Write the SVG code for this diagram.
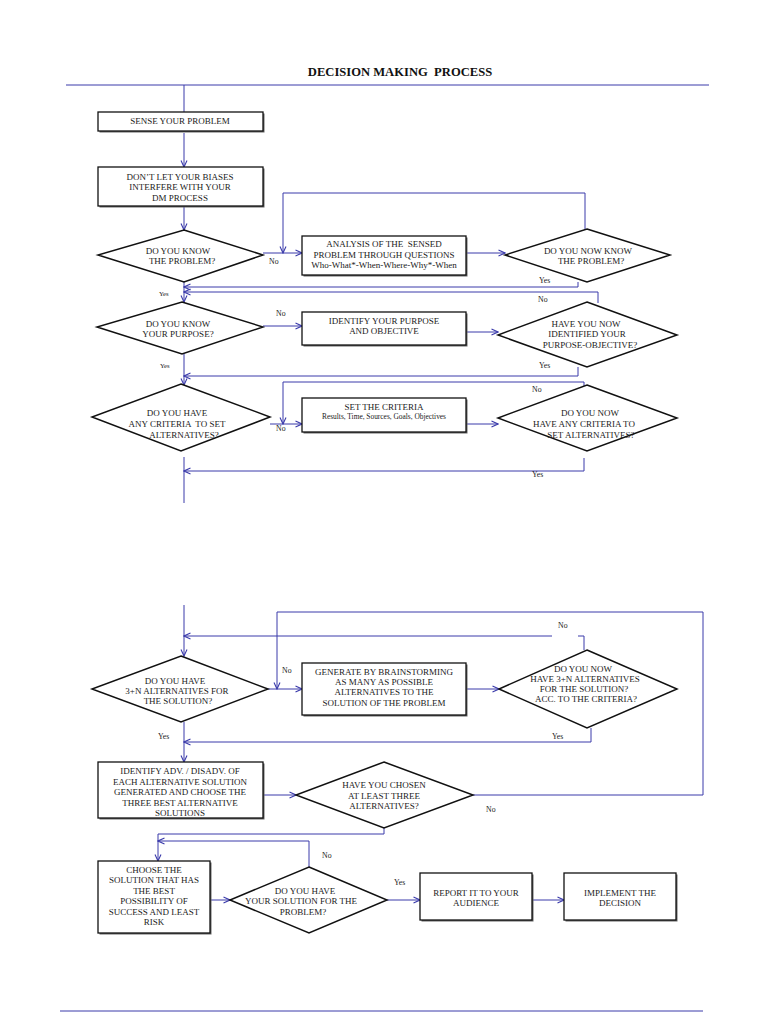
<svg xmlns="http://www.w3.org/2000/svg" width="768" height="1024" viewBox="0 0 768 1024">
<style>
.bx{fill:#fff;stroke:#111;stroke-width:1.3}
.sh{fill:#666}
.dm{fill:#fff;stroke:#111;stroke-width:1.5}
text{white-space:pre}
.t{font-family:"Liberation Serif","Times New Roman",serif;font-size:9px;fill:#1a1a1a;text-anchor:middle}
.s{font-size:7.4px}
.lb{font-family:"Liberation Serif","Times New Roman",serif;font-size:7.8px;fill:#1a1a1a}
.c{fill:none;stroke:#3a3aaa;stroke-width:1}
.a{marker-end:url(#ah)}
.title{font-family:"Liberation Serif","Times New Roman",serif;font-size:12.6px;font-weight:bold;fill:#111;text-anchor:middle}
</style>
<defs>
<marker id="ah" viewBox="0 0 8 8" refX="7" refY="4" markerWidth="8" markerHeight="8" markerUnits="userSpaceOnUse" orient="auto">
<path d="M0.5,1 L7,4 L0.5,7" fill="none" stroke="#3a3aaa" stroke-width="1.1"/>
</marker>
</defs>
<rect width="768" height="1024" fill="#fff"/>
<text class="title" x="400" y="76">DECISION MAKING  PROCESS</text>

<g id="connectors">
<line class="c" x1="66" y1="85" x2="709" y2="85"/>
<line class="c" x1="60" y1="1011" x2="703" y2="1011"/>
<line class="c" x1="184" y1="85" x2="184" y2="112"/>
<line class="c a" x1="184" y1="133" x2="184" y2="167"/>
<line class="c a" x1="184" y1="206" x2="184" y2="230"/>
<line class="c a" x1="263" y1="253" x2="302" y2="253"/>
<polyline class="c a" points="585,230 585,193 283,193 283,253"/>
<line class="c a" x1="466" y1="253" x2="505" y2="253"/>
<polyline class="c a" points="578,282 578,287 184,287"/>
<polyline class="c a" points="598,303 598,292 184,292"/>
<line class="c a" x1="184" y1="282" x2="184" y2="302"/>
<line class="c a" x1="263" y1="326" x2="302" y2="326"/>
<line class="c a" x1="466" y1="332" x2="498" y2="332"/>
<polyline class="c a" points="578,367 578,376 184,376"/>
<line class="c a" x1="184" y1="354" x2="184" y2="385"/>
<polyline class="c a" points="584,386 584,382 283,382 283,424"/>
<line class="c a" x1="270" y1="424" x2="302" y2="424"/>
<line class="c a" x1="466" y1="424" x2="498" y2="424"/>
<polyline class="c a" points="584,458 584,471 184,471"/>
<line class="c" x1="184" y1="457" x2="184" y2="503"/>
<line class="c a" x1="184" y1="605" x2="184" y2="656"/>
<line class="c a" x1="552" y1="636" x2="184" y2="636"/>
<polyline class="c" points="578,636 584,636 584,650"/>
<polyline class="c a" points="473,795 703,795 703,612 277,612 277,689"/>
<line class="c a" x1="268" y1="689" x2="302" y2="689"/>
<line class="c a" x1="466" y1="689" x2="499" y2="689"/>
<polyline class="c a" points="591,728 591,742 184,742"/>
<line class="c a" x1="184" y1="722" x2="184" y2="762"/>
<line class="c a" x1="263" y1="795" x2="296" y2="795"/>
<polyline class="c a" points="384,828 384,834 158,834 158,861"/>
<polyline class="c a" points="309,867 309,841 158,841"/>
<line class="c a" x1="210" y1="900" x2="230" y2="900"/>
<line class="c a" x1="387" y1="900" x2="420" y2="900"/>
<line class="c a" x1="532" y1="900" x2="564" y2="900"/>
<text class="lb" x="269" y="264">No</text>
<text class="lb" x="539" y="283">Yes</text>
<text class="lb" x="538" y="302">No</text>
<text class="lb" x="159" y="296" style="font-size:6.6px">Yes</text>
<text class="lb" x="276" y="316">No</text>
<text class="lb" x="539" y="368">Yes</text>
<text class="lb" x="160" y="368" style="font-size:6.6px">Yes</text>
<text class="lb" x="532" y="392">No</text>
<text class="lb" x="276" y="431">No</text>
<text class="lb" x="532" y="477">Yes</text>
<text class="lb" x="558" y="628">No</text>
<text class="lb" x="282" y="673">No</text>
<text class="lb" x="552" y="739">Yes</text>
<text class="lb" x="158" y="739">Yes</text>
<text class="lb" x="486" y="812">No</text>
<text class="lb" x="322" y="858">No</text>
<text class="lb" x="394" y="885">Yes</text>
</g>

<g id="n1">
<rect class="sh" x="99.5" y="113.5" width="165" height="19"/>
<rect class="bx" x="98" y="112" width="165" height="19"/>
<text class="t" x="180" y="124">SENSE YOUR PROBLEM</text>
</g>
<g id="n2">
<rect class="sh" x="99.5" y="168.5" width="165" height="39"/>
<rect class="bx" x="98" y="167" width="165" height="39"/>
<text class="t" x="180" y="180">DON’T LET YOUR BIASES</text>
<text class="t" x="180" y="190">INTERFERE WITH YOUR</text>
<text class="t" x="180" y="201">DM PROCESS</text>
</g>
<g id="d1">
<polygon class="dm" points="184,230 263,255 184,282 98,255"/>
<text class="t" x="178" y="254">DO YOU KNOW</text>
<text class="t" x="182" y="264">THE PROBLEM?</text>
</g>
<g id="n3">
<rect class="sh" x="303.5" y="237.5" width="164" height="39"/>
<rect class="bx" x="302" y="236" width="164" height="39"/>
<text class="t" x="384" y="247">ANALYSIS OF THE  SENSED</text>
<text class="t" x="384" y="258">PROBLEM THROUGH QUESTIONS</text>
<text class="t" x="384" y="268">Who-What*-When-Where-Why*-When</text>
</g>
<g id="d2">
<polygon class="dm" points="587,229 670,255 587,282 505,255"/>
<text class="t" x="588" y="254">DO YOU NOW KNOW</text>
<text class="t" x="591" y="264">THE PROBLEM?</text>
</g>
<g id="d3">
<polygon class="dm" points="182,302 263,327 182,354 97,327"/>
<text class="t" x="178" y="327">DO YOU KNOW</text>
<text class="t" x="178" y="337">YOUR PURPOSE?</text>
</g>
<g id="n4">
<rect class="sh" x="303.5" y="313.5" width="164" height="33"/>
<rect class="bx" x="302" y="312" width="164" height="33"/>
<text class="t" x="384" y="324">IDENTIFY YOUR PURPOSE</text>
<text class="t" x="384" y="334">AND OBJECTIVE</text>
</g>
<g id="d4">
<polygon class="dm" points="587,302 677,335 587,367 498,335"/>
<text class="t" x="586" y="327">HAVE YOU NOW</text>
<text class="t" x="587" y="337">IDENTIFIED YOUR</text>
<text class="t" x="590" y="348">PURPOSE-OBJECTIVE?</text>
</g>
<g id="d5">
<polygon class="dm" points="181,384 270,417 181,451 92,417"/>
<text class="t" x="177" y="416">DO YOU HAVE</text>
<text class="t" x="177" y="427">ANY CRITERIA  TO SET</text>
<text class="t" x="184" y="438">ALTERNATIVES?</text>
</g>
<g id="n5">
<rect class="sh" x="303.5" y="399.5" width="164" height="34"/>
<rect class="bx" x="302" y="398" width="164" height="34"/>
<text class="t" x="384" y="410">SET THE CRITERIA</text>
<text class="t s" x="384" y="419">Results, Time, Sources, Goals, Objectives</text>
</g>
<g id="d6">
<polygon class="dm" points="587,385 677,418 587,451 498,418"/>
<text class="t" x="590" y="416">DO YOU NOW</text>
<text class="t" x="584" y="427">HAVE ANY CRITERIA TO</text>
<text class="t" x="591" y="438">SET ALTERNATIVES?</text>
</g>
<g id="d7">
<polygon class="dm" points="181,656 268,689 181,722 92,689"/>
<text class="t" x="175" y="684">DO YOU HAVE</text>
<text class="t" x="177" y="694">3+N ALTERNATIVES FOR</text>
<text class="t" x="178" y="704">THE SOLUTION?</text>
</g>
<g id="n6">
<rect class="sh" x="303.5" y="664.5" width="164" height="52"/>
<rect class="bx" x="302" y="663" width="164" height="52"/>
<text class="t" x="384" y="675">GENERATE BY BRAINSTORMING</text>
<text class="t" x="384" y="685">AS MANY AS POSSIBLE</text>
<text class="t" x="384" y="695">ALTERNATIVES TO THE</text>
<text class="t" x="384" y="706">SOLUTION OF THE PROBLEM</text>
</g>
<g id="d8">
<polygon class="dm" points="587,650 677,689 587,728 499,689"/>
<text class="t" x="583" y="672">DO YOU NOW</text>
<text class="t" x="585" y="682">HAVE 3+N ALTERNATIVES</text>
<text class="t" x="584" y="692">FOR THE SOLUTION?</text>
<text class="t" x="586" y="702">ACC. TO THE CRITERIA?</text>
</g>
<g id="n7">
<rect class="sh" x="99.5" y="763.5" width="165" height="56"/>
<rect class="bx" x="98" y="762" width="165" height="56"/>
<text class="t" x="180" y="774">IDENTIFY ADV. / DISADV. OF</text>
<text class="t" x="180" y="785">EACH ALTERNATIVE SOLUTION</text>
<text class="t" x="180" y="795">GENERATED AND CHOOSE THE</text>
<text class="t" x="180" y="806">THREE BEST ALTERNATIVE</text>
<text class="t" x="180" y="816">SOLUTIONS</text>
</g>
<g id="d9">
<polygon class="dm" points="384,762 473,795 384,828 296,795"/>
<text class="t" x="384" y="788">HAVE YOU CHOSEN</text>
<text class="t" x="384" y="799">AT LEAST THREE</text>
<text class="t" x="384" y="809">ALTERNATIVES?</text>
</g>
<g id="n8">
<rect class="sh" x="99.5" y="862.5" width="112" height="72"/>
<rect class="bx" x="98" y="861" width="112" height="72"/>
<text class="t" x="154" y="873">CHOOSE THE</text>
<text class="t" x="154" y="883">SOLUTION THAT HAS</text>
<text class="t" x="154" y="894">THE BEST</text>
<text class="t" x="154" y="904">POSSIBILITY OF</text>
<text class="t" x="154" y="915">SUCCESS AND LEAST</text>
<text class="t" x="154" y="925">RISK</text>
</g>
<g id="d10">
<polygon class="dm" points="309,867 387,900 309,933 230,900"/>
<text class="t" x="305" y="894">DO YOU HAVE</text>
<text class="t" x="301" y="904">YOUR SOLUTION FOR THE</text>
<text class="t" x="303" y="915">PROBLEM?</text>
</g>
<g id="n9">
<rect class="sh" x="421.5" y="874.5" width="112" height="47"/>
<rect class="bx" x="420" y="873" width="112" height="47"/>
<text class="t" x="476" y="896">REPORT IT TO YOUR</text>
<text class="t" x="476" y="906">AUDIENCE</text>
</g>
<g id="n10">
<rect class="sh" x="565.5" y="874.5" width="112" height="47"/>
<rect class="bx" x="564" y="873" width="112" height="47"/>
<text class="t" x="620" y="896">IMPLEMENT THE</text>
<text class="t" x="620" y="906">DECISION</text>
</g>
</svg>
